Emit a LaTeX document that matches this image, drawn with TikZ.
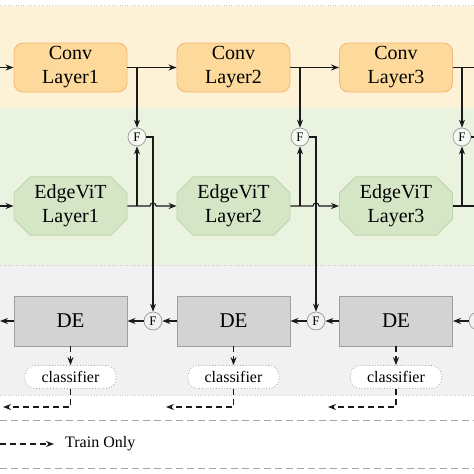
\documentclass[tikz,border=0pt]{standalone}
\usepackage{fontspec}
\setmainfont{Liberation Serif}
\usetikzlibrary{shapes.misc,arrows.meta,calc}
\definecolor{bandO}{HTML}{FEF2D6}
\definecolor{bandG}{HTML}{EAF2E0}
\definecolor{bandY}{HTML}{F1F1F1}
\definecolor{convF}{HTML}{FDDA9C}
\definecolor{convD}{HTML}{F3B977}
\definecolor{vitF}{HTML}{D5E6C6}
\definecolor{vitD}{HTML}{BDD6A8}
\definecolor{deF}{HTML}{D3D3D3}
\definecolor{deD}{HTML}{9E9E9E}
\definecolor{lineC}{HTML}{1A1A1A}
\definecolor{sepC}{HTML}{C8CDD0}
\tikzset{
  convbox/.style={draw=convD, fill=convF, line width=0.9pt, rounded corners=9pt,
    minimum width=113pt, minimum height=49pt, align=center,
    font=\fontsize{20}{24}\selectfont, inner sep=0pt},
  vitbox/.style={draw=vitD, fill=vitF, line width=0.9pt, chamfered rectangle,
    chamfered rectangle xsep=8pt, chamfered rectangle ysep=8pt,
    minimum width=113pt, minimum height=48pt, align=center,
    font=\fontsize{20}{24}\selectfont, inner sep=0pt},
  debox/.style={draw=deD, fill=deF, line width=0.9pt,
    minimum width=113pt, minimum height=50pt,
    font=\fontsize{21}{24}\selectfont, inner sep=0pt},
  clsbox/.style={draw=gray!70, dotted, fill=white, line width=0.8pt, rounded corners=10pt,
    minimum width=91pt, minimum height=23pt, font=\fontsize{16}{18}\selectfont, inner sep=0pt},
  fus/.style={circle, draw=gray!80, fill=white!60!bandG, line width=0.7pt,
    minimum size=18pt, inner sep=0pt, font=\fontsize{13}{13}\selectfont},
  flow/.style={draw=lineC, line width=1.1pt, -{Stealth[length=8pt,width=6pt]}},
  plain/.style={draw=lineC, line width=1.1pt},
  train/.style={draw=lineC, line width=1.2pt, dash pattern=on 6pt off 4pt, -{Stealth[length=8pt,width=6pt]}},
  sepline/.style={draw=gray!70, line width=0.9pt, dash pattern=on 7pt off 4pt},
  bandline/.style={draw=sepC, line width=0.6pt, dotted}
}
\begin{document}
\begin{tikzpicture}[x=1pt,y=-1pt]
\useasboundingbox (0,0) rectangle (474,474);
\clip (0,0) rectangle (474,474);
% bands
\fill[white] (0,0) rectangle (474,474);
\fill[bandO] (0,6) rectangle (474,108);
\fill[bandG] (0,108) rectangle (474,265);
\fill[bandY] (0,265) rectangle (474,395);
\draw[bandline] (0,5.5) -- (474,5.5);
\draw[bandline] (0,265) -- (474,265);
\draw[bandline] (0,395) -- (474,395);

% conv row
\node[convbox] (c1) at (70.5,67.5) {Conv\\Layer1};
\node[convbox] (c2) at (233.5,67.5) {Conv\\Layer2};
\node[convbox] (c3) at (396,67.5) {Conv\\Layer3};
% vit row
\node[vitbox] (v1) at (70.5,206) {EdgeViT\\Layer1};
\node[vitbox] (v2) at (233.5,206) {EdgeViT\\Layer2};
\node[vitbox] (v3) at (396,206) {EdgeViT\\Layer3};
% fusion top
\node[fus] (f1) at (137,137) {F};
\node[fus] (f2) at (300,137) {F};
\node[fus] (f3) at (462,137) {F};
% DE row
\node[debox] (d1) at (70.5,321) {DE};
\node[debox] (d2) at (233.5,321) {DE};
\node[debox] (d3) at (396,321) {DE};
\node[fus, fill=bandY] (g1) at (153,321) {F};
\node[fus, fill=bandY] (g2) at (316,321) {F};
\node[fus, fill=bandY] (g3) at (478,321) {};
% classifiers
\node[clsbox] (k1) at (70.5,377) {classifier};
\node[clsbox] (k2) at (233.5,377) {classifier};
\node[clsbox] (k3) at (396,377) {classifier};

% free ends
\coordinate (cin) at (0,67.5);
\coordinate (vin) at (0,206);
\coordinate (cout) at (474,67.5);
\coordinate (vout) at (474,206);
\coordinate (fout) at (474,137);
\coordinate (dout) at (0,321);

% conv flow
\draw[flow] (cin) -- (c1.west);
\draw[flow] (c1.east) -- (c2.west);
\draw[flow] (c2.east) -- (c3.west);
\draw[plain] (c3.east) -- (cout);
\draw[flow] (c1.east -| f1) -- (f1.north);
\draw[flow] (c2.east -| f2) -- (f2.north);
\draw[flow] (c3.east -| f3) -- (f3.north);

% vit flow
\draw[flow] (vin) -- (v1.west);
\draw[flow] (v1.east) -- ($(g1.north |- v1.east)+(-3,0)$) arc (180:360:3) -- (v2.west);
\draw[flow] (v2.east) -- ($(g2.north |- v2.east)+(-3,0)$) arc (180:360:3) -- (v3.west);
\draw[plain] (v3.east) -- (vout);
\draw[flow] (v1.east -| f1) -- (f1.south);
\draw[flow] (v2.east -| f2) -- (f2.south);
\draw[flow] (v3.east -| f3) -- (f3.south);

% fusion down
\draw[flow] (f1.east) -| (g1.north);
\draw[flow] (f2.east) -| (g2.north);
\draw[plain] (f3.east) -- (fout);

% DE flow
\draw[flow] (g3.west) -- (d3.east);
\draw[flow] (d3.west) -- (g2.east);
\draw[flow] (g2.west) -- (d2.east);
\draw[flow] (d2.west) -- (g1.east);
\draw[flow] (g1.west) -- (d1.east);
\draw[flow] (d1.west) -- (dout);

% train-only paths
\foreach \i in {1,2,3}{
  \draw[train] (d\i.south) -- (k\i.north);
}
\coordinate (t1) at (3,407);
\coordinate (t2) at (166,407);
\coordinate (t3) at (328,407);
\draw[train] (k1.south) |- (t1);
\draw[train] (k2.south) |- (t2);
\draw[train] (k3.south) |- (t3);

% legend
\draw[sepline] (0,420) -- (474,420);
\draw[sepline] (0,468) -- (474,468);
\coordinate (la) at (0,444);
\coordinate (lb) at (54,444);
\draw[train] (la) -- (lb);
\node[anchor=west, font=\fontsize{16}{18}\selectfont, inner sep=0pt] (lt) at (65,444) {Train Only};
\end{tikzpicture}
\end{document}
